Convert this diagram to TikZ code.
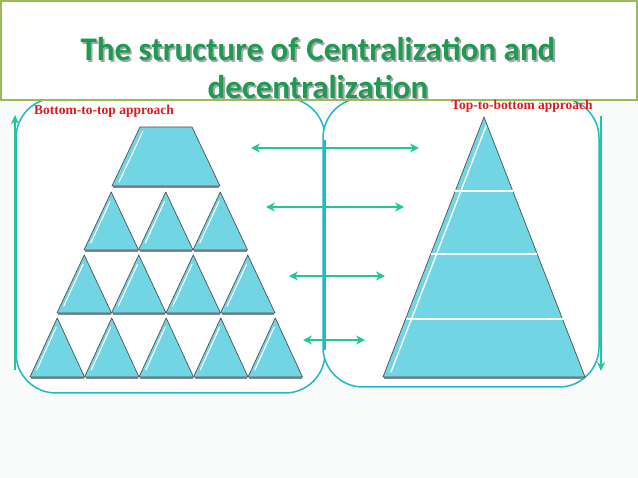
\documentclass[tikz,border=0pt]{standalone}
\usepackage{fontspec}
\setmainfont{Liberation Serif}
\newfontfamily\titlefont{Carlito}
\usetikzlibrary{arrows.meta}
\definecolor{boxline}{HTML}{22B8C6}
\definecolor{arrowgreen}{HTML}{1EC897}
\definecolor{fillc}{HTML}{72D5E4}
\definecolor{edgec}{HTML}{4A5058}
\definecolor{titlegreen}{HTML}{1E9A52}
\definecolor{titlebox}{HTML}{9BBB59}
\definecolor{lblred}{HTML}{E0191E}
\definecolor{bg}{HTML}{F9FAFA}
\newcommand\mytri[4]{%
  \draw[black!45, line width=1.6pt] (#1+1,#2+1.3) -- (#1+#3-1,#2+1.3);
  \filldraw[fill=fillc, draw=edgec, line width=0.7pt, line join=round]
    (#1,#2) -- (#1+#3/2,#2-#4) -- (#1+#3,#2) -- cycle;
  \draw[white, line width=1.1pt, line cap=round]
    (#1+0.06*#3+3.5,#2-0.12*#4) -- (#1+0.42*#3+3.2,#2-0.84*#4);
}
\newcommand\shadowtext[1]{\makebox[0pt][l]{\hspace{1.8pt}\raisebox{-1.8pt}{\color{black!35}#1}}#1}
\tikzset{
  roundbox/.style={draw=boxline, fill=white, line width=1.5pt, rounded corners=40pt},
  dblarrow/.style={draw=arrowgreen, line width=2.6pt, {Stealth[length=9pt,width=9pt]}-{Stealth[length=9pt,width=9pt]}},
  varrow/.style={draw=arrowgreen, line width=2.6pt, -{Stealth[length=9pt,width=8pt]}},
  lbl/.style={text=lblred, font=\bfseries\fontsize{13.5}{15}\selectfont, inner sep=0pt},
  ttl/.style={font=\titlefont\bfseries\fontsize{33}{38}\selectfont, inner sep=0pt, text=titlegreen},
}
\begin{document}
\begin{tikzpicture}[x=1pt,y=-1pt]
\useasboundingbox (0,0) rectangle (638,478);
\fill[bg] (0,0) rectangle (638,478);
% rounded boxes
\draw[roundbox] (16,98) rectangle (325,393);
\draw[roundbox] (323,98) rectangle (599,387);
\draw[boxline, line width=1.5pt] (325,140) -- (325,350);
% title box
\filldraw[fill=white, draw=titlebox, line width=1.2pt] (1,1) rectangle (637,100);
\node[ttl] (t1) at (318,50) {\shadowtext{The structure of Centralization and}};
\node[ttl] (t2) at (318,88) {\shadowtext{decentralization}};
% labels
\node[lbl] (lb1) at (104,111) {Bottom-to-top approach};
\node[lbl] (lb2) at (522,106) {Top-to-bottom approach};
% vertical arrows
\coordinate (upS) at (15,370);
\coordinate (upE) at (15,115);
\coordinate (dnS) at (601,116);
\coordinate (dnE) at (601,371);
\draw[varrow] (upS) -- (upE);
\draw[varrow] (dnS) -- (dnE);
% double arrows
\coordinate (a1l) at (251,148); \coordinate (a1r) at (419,148);
\coordinate (a2l) at (266,207); \coordinate (a2r) at (404,207);
\coordinate (a3l) at (289,276); \coordinate (a3r) at (385,276);
\coordinate (a4l) at (303,340); \coordinate (a4r) at (365,340);
\draw[dblarrow] (a1l) -- (a1r);
\draw[dblarrow] (a2l) -- (a2r);
\draw[dblarrow] (a3l) -- (a3r);
\draw[dblarrow] (a4l) -- (a4r);
% left pyramid: trapezoid
\draw[black!45, line width=1.6pt] (113,187.3) -- (219,187.3);
\filldraw[fill=fillc, draw=edgec, line width=0.7pt, line join=round]
  (112,186) -- (140,127) -- (192,127) -- (220,186) -- cycle;
\draw[white, line width=1.1pt, line cap=round] (119,182) -- (143,131);
% row 2
\mytri{84}{250}{54.5}{58}
\mytri{138.5}{250}{54.5}{58}
\mytri{193}{250}{54.5}{58}
% row 3
\mytri{57}{313}{54.5}{58}
\mytri{111.5}{313}{54.5}{58}
\mytri{166}{313}{54.5}{58}
\mytri{220.5}{313}{54.5}{58}
% row 4
\mytri{30}{377}{54.5}{59}
\mytri{84.5}{377}{54.5}{59}
\mytri{139}{377}{54.5}{59}
\mytri{193.5}{377}{54.5}{59}
\mytri{248}{377}{54.5}{59}
% right pyramid
\draw[black!45, line width=1.8pt] (384,378.4) -- (584,378.4);
\filldraw[fill=fillc, draw=edgec, line width=0.7pt, line join=round]
  (383,377) -- (484,117) -- (585,377) -- cycle;
\draw[white, line width=1.4pt, line cap=round] (391,372) -- (486,126);
\draw[white, line width=2.4pt] (455.3,191) -- (512.7,191);
\draw[white, line width=2.4pt] (430.8,254) -- (537.2,254);
\draw[white, line width=2.4pt] (405.5,319) -- (562.5,319);
\end{tikzpicture}
\end{document}
